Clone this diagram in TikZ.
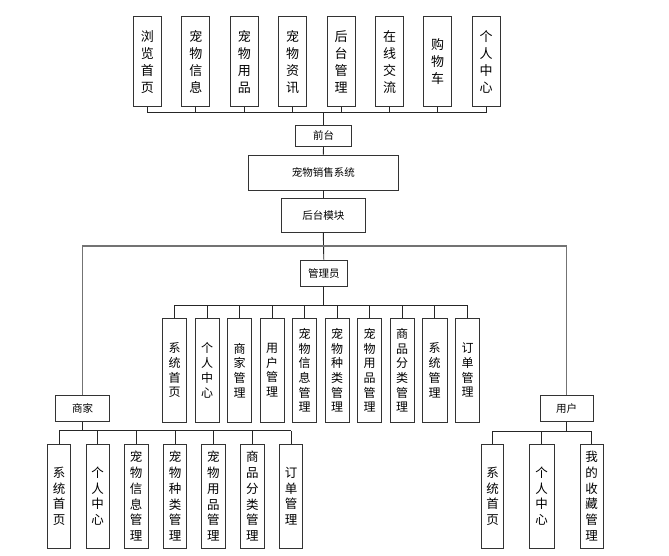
\documentclass[tikz,border=0pt]{standalone}
\usepackage{fontspec}
\setmainfont{Noto Sans CJK SC}
\begin{document}
\begin{tikzpicture}[x=1pt,y=-1pt,
  box/.style={draw=black!80,line width=0.8pt,inner sep=0pt,align=center,fill=white},
  topbox/.style={box,minimum width=28pt,minimum height=90pt,font=\fontsize{13}{17}\selectfont},
  admbox/.style={box,minimum width=24.5pt,minimum height=104pt,font=\fontsize{12}{14.7}\selectfont},
  botbox/.style={box,minimum width=23.5pt,minimum height=104.3pt,font=\fontsize{12.5}{15.7}\selectfont},
  hbox/.style={box,font=\fontsize{10.5}{12}\selectfont},
  conn/.style={draw=black!85,line width=0.9pt}]
\useasboundingbox (0,0) rectangle (669,556);
% top row
\node[topbox] (t1) at (147.3,61.7) {浏\\览\\首\\页};
\node[topbox] (t2) at (195.8,61.7) {宠\\物\\信\\息};
\node[topbox] (t3) at (244.3,61.7) {宠\\物\\用\\品};
\node[topbox] (t4) at (292.7,61.7) {宠\\物\\资\\讯};
\node[topbox] (t5) at (341.0,61.7) {后\\台\\管\\理};
\node[topbox] (t6) at (389.5,61.7) {在\\线\\交\\流};
\node[topbox] (t7) at (437.7,61.7) {购\\物\\车};
\node[topbox] (t8) at (486.2,61.7) {个\\人\\中\\心};
\coordinate (topbus) at (323.5,112.7);
\node[hbox,minimum width=56pt,minimum height=21.7pt] (qt) at (323.5,135.8) {前台};
\node[hbox,minimum width=150pt,minimum height=35pt] (sys) at (323.3,172.5) {宠物销售系统};
\node[hbox,minimum width=83.3pt,minimum height=34pt] (bk) at (323.3,215.3) {后台模块};
\coordinate (mainbus) at (323.3,246);
\node[hbox,minimum width=47.7pt,minimum height=26.7pt] (gly) at (323.8,273.3) {管理员};
\coordinate (admbus) at (323.8,305);
% admin row
\node[admbox] (a1) at (174.5,370.3) {系\\统\\首\\页};
\node[admbox] (a2) at (207.2,370.3) {个\\人\\中\\心};
\node[admbox] (a3) at (239.5,370.3) {商\\家\\管\\理};
\node[admbox] (a4) at (272.2,370.3) {用\\户\\管\\理};
\node[admbox] (a5) at (304.5,370.3) {宠\\物\\信\\息\\管\\理};
\node[admbox] (a6) at (337.2,370.3) {宠\\物\\种\\类\\管\\理};
\node[admbox] (a7) at (369.5,370.3) {宠\\物\\用\\品\\管\\理};
\node[admbox] (a8) at (402.2,370.3) {商\\品\\分\\类\\管\\理};
\node[admbox] (a9) at (434.7,370.3) {系\\统\\管\\理};
\node[admbox] (a10) at (467.5,370.3) {订\\单\\管\\理};
% merchant
\node[hbox,minimum width=53.6pt,minimum height=26.7pt] (sj) at (82.5,408.5) {商家};
\coordinate (sjbus) at (82.5,430.7);
\node[botbox] (s1) at (59.0,496.2) {系\\统\\首\\页};
\node[botbox] (s2) at (97.7,496.2) {个\\人\\中\\心};
\node[botbox] (s3) at (136.2,496.2) {宠\\物\\信\\息\\管\\理};
\node[botbox] (s4) at (175.0,496.2) {宠\\物\\种\\类\\管\\理};
\node[botbox] (s5) at (213.3,496.2) {宠\\物\\用\\品\\管\\理};
\node[botbox] (s6) at (252.3,496.2) {商\\品\\分\\类\\管\\理};
\node[botbox] (s7) at (291.0,496.2) {订\\单\\管\\理};
% user
\node[hbox,minimum width=53.3pt,minimum height=26.7pt] (yh) at (566.7,408.5) {用户};
\coordinate (yhbus) at (566.7,431);
\node[botbox,minimum width=22pt] (u1) at (492.5,496.2) {系\\统\\首\\页};
\node[botbox,minimum width=25pt] (u2) at (541.5,496.2) {个\\人\\中\\心};
\node[botbox,minimum width=23.3pt] (u3) at (591.7,496.2) {我\\的\\收\\藏\\管\\理};
% connectors
\foreach \i in {1,...,8} \draw[conn] (t\i.south) -- (t\i.south |- topbus);
\draw[conn] (t1.south |- topbus) -- (t8.south |- topbus);
\draw[conn] (topbus) -- (qt.north);
\draw[conn] (qt.south) -- (sys.north);
\draw[conn] (sys.south) -- (bk.north);
\draw[conn] (bk.south) -- (gly.north);
\draw[conn,draw=black!55,line width=1.1pt] (sj.north) |- (mainbus) -| (yh.north);
\draw[conn,line width=1.2pt] (gly.south) -- (admbus);
\foreach \i in {1,...,10} \draw[conn] (a\i.north) -- (a\i.north |- admbus);
\draw[conn] (a1.north |- admbus) -- (a10.north |- admbus);
\draw[conn] (sj.south) -- (sjbus);
\foreach \i in {1,...,7} \draw[conn] (s\i.north) -- (s\i.north |- sjbus);
\draw[conn] (s1.north |- sjbus) -- (s7.north |- sjbus);
\draw[conn] (yh.south) -- (yhbus);
\foreach \i in {1,2,3} \draw[conn] (u\i.north) -- (u\i.north |- yhbus);
\draw[conn] (u1.north |- yhbus) -- (u3.north |- yhbus);
\end{tikzpicture}
\end{document}
